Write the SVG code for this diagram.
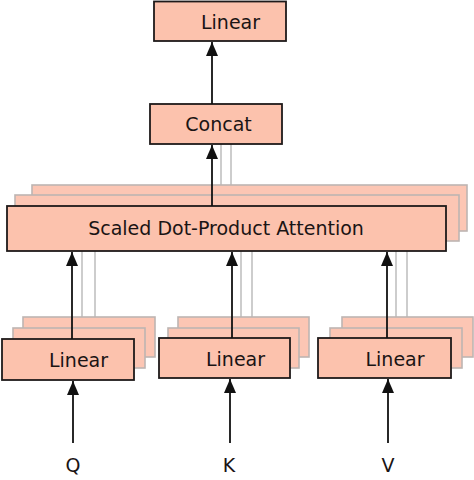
<svg xmlns="http://www.w3.org/2000/svg" width="474" height="480" viewBox="0 0 474 480">
<style>
.box{fill:#fcc2ad;stroke:#1e1a1a;stroke-width:1.8}
.back{fill:#fcc6b4;stroke:#bdb5b2;stroke-width:1.6}
.lbl{font-family:"DejaVu Sans",sans-serif;font-size:19px;fill:#1a1414}
.arr{stroke:#111;stroke-width:1.8;fill:none;marker-end:url(#ah)}
.gray{stroke:#bdbdbd;stroke-width:1.5;fill:none}
</style>
<defs>
<marker id="ah" markerUnits="userSpaceOnUse" markerWidth="14" markerHeight="12" viewBox="0 0 14 12" refX="14" refY="6" orient="auto">
<path d="M0,0 L14,6 L0,12 Z" fill="#111"/>
</marker>
</defs>
<rect width="474" height="480" fill="#fff"/>
<g id="connectors">
<line class="gray" x1="82" y1="251" x2="82" y2="328"/>
<line class="gray" x1="95" y1="251" x2="95" y2="317"/>
<line class="gray" x1="241" y1="251" x2="241" y2="328"/>
<line class="gray" x1="252" y1="251" x2="252" y2="317"/>
<line class="gray" x1="396" y1="251" x2="396" y2="328"/>
<line class="gray" x1="407" y1="251" x2="407" y2="317"/>
<line class="gray" x1="221" y1="144" x2="221" y2="196"/>
<line class="gray" x1="231" y1="144" x2="231" y2="185"/>
</g>
<g id="sdpa">
<rect class="back" x="32" y="185" width="435" height="46"/>
<rect class="back" x="15" y="195" width="444" height="46"/>
<rect class="box" x="7" y="206" width="439" height="45"/>
<text class="lbl" x="226" y="235" text-anchor="middle">Scaled Dot-Product Attention</text>
</g>
<g id="linear-q">
<rect class="back" x="23" y="317" width="132" height="40"/>
<rect class="back" x="13" y="328" width="132" height="40"/>
<rect class="box" x="2" y="339" width="132" height="41"/>
<text class="lbl" x="78.5" y="367" text-anchor="middle">Linear</text>
</g>
<g id="linear-k">
<rect class="back" x="178" y="317" width="131" height="40"/>
<rect class="back" x="168" y="328" width="131" height="40"/>
<rect class="box" x="159" y="338" width="131" height="40"/>
<text class="lbl" x="235.5" y="366" text-anchor="middle">Linear</text>
</g>
<g id="linear-v">
<rect class="back" x="342" y="317" width="131" height="40"/>
<rect class="back" x="330" y="328" width="132" height="40"/>
<rect class="box" x="318" y="338" width="133" height="40"/>
<text class="lbl" x="395" y="366" text-anchor="middle">Linear</text>
</g>
<g id="concat">
<rect class="box" x="150" y="104" width="132" height="40"/>
<text class="lbl" x="218.5" y="131" text-anchor="middle">Concat</text>
</g>
<g id="linear-out">
<rect class="box" x="154" y="1.5" width="132" height="39.5"/>
<text class="lbl" x="230.5" y="29" text-anchor="middle">Linear</text>
</g>
<g id="arrows">
<line class="arr" x1="73" y1="443" x2="73" y2="381"/>
<line class="arr" x1="230" y1="443" x2="230" y2="379"/>
<line class="arr" x1="388" y1="443" x2="388" y2="379"/>
<line class="arr" x1="72" y1="339" x2="72" y2="252"/>
<line class="arr" x1="232" y1="338" x2="232" y2="252"/>
<line class="arr" x1="387" y1="338" x2="387" y2="252"/>
<line class="arr" x1="212" y1="206" x2="212" y2="145"/>
<line class="arr" x1="212" y1="104" x2="212" y2="42"/>
</g>
<g id="inputs">
<text class="lbl" x="73" y="472" text-anchor="middle">Q</text>
<text class="lbl" x="229" y="472" text-anchor="middle">K</text>
<text class="lbl" x="388" y="472" text-anchor="middle">V</text>
</g>
</svg>
